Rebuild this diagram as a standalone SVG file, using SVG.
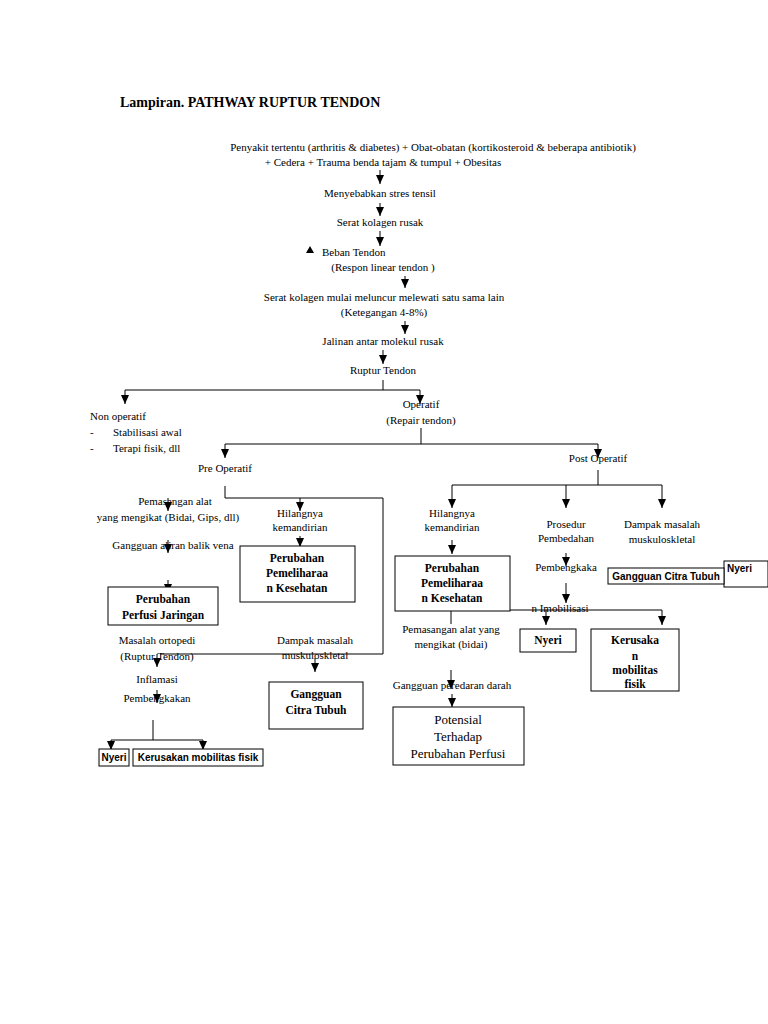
<svg xmlns="http://www.w3.org/2000/svg" width="768" height="1024" viewBox="0 0 768 1024">
<defs><marker id="a" markerWidth="8" markerHeight="8" refX="4" refY="7" orient="auto-start-reverse" markerUnits="userSpaceOnUse"><path d="M0,0 L8,0 L4,8 z" fill="#000" transform="rotate(-90 4 4)"/></marker>
<marker id="d" markerWidth="8" markerHeight="9" refX="4" refY="9" markerUnits="userSpaceOnUse" orient="0"><path d="M0,0 L8,0 L4,9 z" fill="#000"/></marker></defs>
<style>
text{font-family:"Liberation Serif",serif;font-size:11px;fill:#000}
.c{text-anchor:middle}
.b{font-weight:bold;font-size:11.5px}
.s{font-family:"Liberation Sans",sans-serif;font-weight:bold;font-size:10px}
.box{fill:#fff;stroke:#000;stroke-width:1}
.ln{fill:none;stroke:#000;stroke-width:1}
.ar{fill:none;stroke:#000;stroke-width:1;marker-end:url(#d)}
</style>
<rect width="768" height="1024" fill="#fff"/>
<text x="120" y="107" class="b" style="font-size:14px">Lampiran. PATHWAY RUPTUR TENDON</text>
<g id="connectors">
<path class="ar" d="M380 170V184"/><path class="ar" d="M380 203V216"/><path class="ar" d="M380 231V246"/>
<path d="M306 253L310 246L314 253z" fill="#000"/>
<path class="ar" d="M405 276V288"/><path class="ar" d="M405 321V334"/><path class="ar" d="M383 350V364"/>
<path class="ln" d="M383 380V390M125 390H420"/><path class="ar" d="M125 390V404"/><path class="ar" d="M420 390V404"/>
<path class="ln" d="M421 428V444M225 444H598"/><path class="ar" d="M225 444V458"/><path class="ar" d="M598 444V458"/>
<path class="ln" d="M225 486V498H383V654H160"/><path class="ar" d="M168 498V511"/><path class="ar" d="M300 498V511"/>
<path class="ar" d="M300 536V547"/><path class="ar" d="M168 540V553"/><path class="ar" d="M168 580V593"/>
<path class="ar" d="M157 654V667"/><path class="ar" d="M157 690V703"/>
<path class="ln" d="M153 720V740M111 740H203"/><path class="ar" d="M111 740V750"/><path class="ar" d="M203 740V750"/>
<path class="ar" d="M315 658V672"/>
<path class="ln" d="M598 470V485M452 485H662"/><path class="ar" d="M452 485V508"/><path class="ar" d="M566 485V508"/><path class="ar" d="M662 485V508"/>
<path class="ar" d="M452 540V554"/><path class="ar" d="M566 553V566"/><path class="ar" d="M566 583V603"/>
<path class="ln" d="M451 610H662M451 610V624"/><path class="ar" d="M546 610V625"/><path class="ar" d="M662 610V625"/>
<path class="ar" d="M451 670V689"/><path class="ar" d="M452 694V707"/>
</g>
<g id="top">
<text x="433" y="151" class="c">Penyakit tertentu (arthritis &amp; diabetes) + Obat-obatan (kortikosteroid &amp; beberapa antibiotik)</text>
<text x="383" y="166" class="c">+ Cedera + Trauma benda tajam &amp; tumpul + Obesitas</text>
<text x="380" y="197" class="c">Menyebabkan stres tensil</text>
<text x="380" y="226" class="c">Serat kolagen rusak</text>
<text x="322" y="256">Beban Tendon</text>
<text x="383" y="271" class="c">(Respon linear tendon )</text>
<text x="384" y="301" class="c">Serat kolagen mulai meluncur melewati satu sama lain</text>
<text x="384" y="316" class="c">(Ketegangan 4-8%)</text>
<text x="383" y="345" class="c">Jalinan antar molekul rusak</text>
<text x="383" y="374" class="c">Ruptur Tendon</text>
<text x="90" y="420">Non operatif</text>
<text x="90" y="436">-</text><text x="113" y="436">Stabilisasi awal</text>
<text x="90" y="452">-</text><text x="113" y="452">Terapi fisik, dll</text>
<text x="421" y="408" class="c">Operatif</text>
<text x="421" y="424" class="c">(Repair tendon)</text>
<text x="225" y="472" class="c">Pre Operatif</text>
<text x="598" y="462" class="c">Post Operatif</text>
</g>
<g id="pre">
<text x="175" y="505" class="c">Pemasangan alat</text>
<text x="168" y="521" class="c">yang mengikat (Bidai, Gips, dll)</text>
<text x="300" y="517" class="c">Hilangnya</text><text x="300" y="531" class="c">kemandirian</text>
<rect class="box" x="240" y="546" width="115" height="56"/>
<text x="297" y="562" class="c b">Perubahan</text><text x="297" y="577" class="c b">Pemeliharaa</text><text x="297" y="592" class="c b">n Kesehatan</text>
<text x="173" y="549" class="c">Gangguan aliran balik vena</text>
<rect class="box" x="108" y="587" width="110" height="38"/>
<text x="163" y="603" class="c b">Perubahan</text><text x="163" y="619" class="c b">Perfusi Jaringan</text>
<text x="157" y="644" class="c">Masalah ortopedi</text><text x="157" y="660" class="c">(Ruptur Tendon)</text>
<text x="157" y="683" class="c">Inflamasi</text><text x="157" y="702" class="c">Pembengkakan</text>
<rect class="box" x="99" y="749" width="30" height="17"/><text x="114" y="761" class="c s">Nyeri</text>
<rect class="box" x="133" y="749" width="130" height="17"/><text x="198" y="761" class="c s">Kerusakan mobilitas fisik</text>
<text x="315" y="644" class="c">Dampak masalah</text><text x="315" y="659" class="c">muskuloskletal</text>
<rect class="box" x="269" y="682" width="94" height="47"/>
<text x="316" y="698" class="c b">Gangguan</text><text x="316" y="714" class="c b">Citra Tubuh</text>
</g>
<g id="post">
<text x="452" y="517" class="c">Hilangnya</text><text x="452" y="531" class="c">kemandirian</text>
<rect class="box" x="395" y="556" width="115" height="55"/>
<text x="452" y="572" class="c b">Perubahan</text><text x="452" y="587" class="c b">Pemeliharaa</text><text x="452" y="602" class="c b">n Kesehatan</text>
<text x="566" y="528" class="c">Prosedur</text><text x="566" y="542" class="c">Pembedahan</text>
<text x="566" y="571" class="c">Pembengkaka</text>
<text x="560" y="612" class="c">n Imobilisasi</text>
<text x="451" y="633" class="c">Pemasangan alat yang</text><text x="451" y="648" class="c">mengikat (bidai)</text>
<rect class="box" x="520" y="629" width="56" height="23"/><text x="548" y="644" class="c b">Nyeri</text>
<rect class="box" x="591" y="629" width="88" height="62"/>
<text x="635" y="644" class="c b">Kerusaka</text><text x="635" y="660" class="c b">n</text><text x="635" y="674" class="c b">mobilitas</text><text x="635" y="688" class="c b">fisik</text>
<text x="452" y="689" class="c">Gangguan peredaran darah</text>
<rect class="box" x="393" y="707" width="131" height="58"/>
<text x="458" y="724" class="c" style="font-size:13px">Potensial</text><text x="458" y="741" class="c" style="font-size:13px">Terhadap</text><text x="458" y="758" class="c" style="font-size:13px">Perubahan Perfusi</text>
<text x="662" y="528" class="c">Dampak masalah</text><text x="662" y="543" class="c">muskuloskletal</text>
<rect class="box" x="724" y="561" width="44" height="26"/><text x="727" y="572" class="s">Nyeri</text>
<rect class="box" x="608" y="568" width="116" height="16"/><text x="666" y="580" class="c s">Gangguan Citra Tubuh</text>
</g>
</svg>
